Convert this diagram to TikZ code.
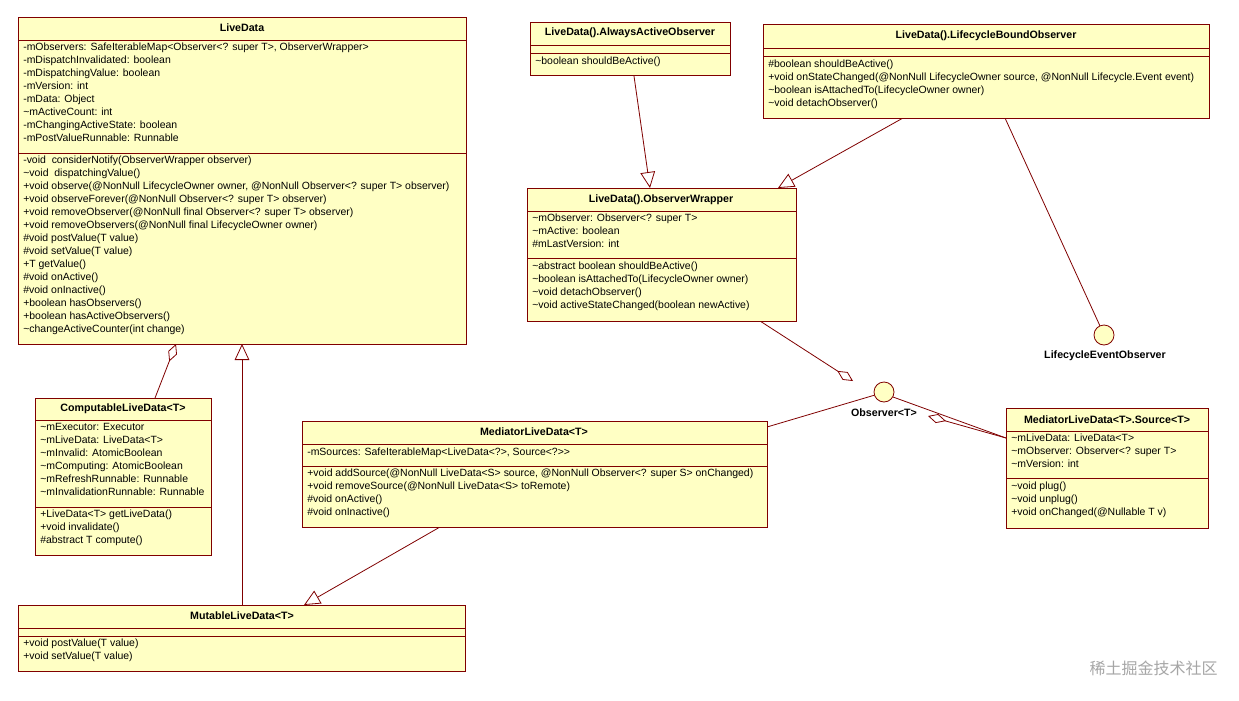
\documentclass[tikz,border=0pt]{standalone}
\usepackage{fontspec}
\setmainfont{Liberation Sans}
\newfontfamily\cjk{Noto Sans CJK SC}
\usetikzlibrary{arrows.meta}
\definecolor{umlfill}{HTML}{FFFFC4}
\definecolor{umlline}{HTML}{800000}
\tikzset{
  cls/.style={draw=umlline,fill=umlfill,line width=0.6pt},
  ttl/.style={font=\bfseries\fontsize{8}{9}\selectfont,anchor=center,inner sep=0},
  txt/.style={font=\fontsize{7.85}{9.75}\selectfont,anchor=north west,align=left,inner sep=0},
  conn/.style={draw=umlline,line width=0.6pt},
  gen/.style={conn,-{Triangle[open,length=12pt,width=11pt,fill=white]}},
  agg/.style={conn,-{Diamond[open,length=14pt,width=7pt,fill=white]}},
  ifc/.style={draw=umlline,fill=umlfill,line width=0.6pt,circle,minimum size=15pt,inner sep=0},
  ilab/.style={font=\bfseries\fontsize{8}{9}\selectfont,inner sep=0}
}
\begin{document}
\begin{tikzpicture}[x=0.75pt,y=-0.75pt]
\useasboundingbox (0,0) rectangle (1239,700);
\fill[white] (0,0) rectangle (1239,700);

% connectors (drawn first)
\coordinate (c1) at (634,76); \coordinate (c1e) at (650,188);
\draw[gen] (c1) -- (c1e);
\coordinate (c2) at (903,118); \coordinate (c2e) at (778,188);
\draw[gen] (c2) -- (c2e);
\coordinate (c3) at (1005,118); \coordinate (c3e) at (1100,326);
\draw[conn] (c3) -- (c3e);
\coordinate (c4) at (760,321); \coordinate (c4e) at (853,381);
\draw[agg] (c4) -- (c4e);
\coordinate (c5) at (767,427); \coordinate (c5e) at (875,395);
\draw[conn] (c5) -- (c5e);
\coordinate (c6) at (1006,438); \coordinate (c6e) at (893,397);
\draw[conn] (c6) -- (c6e);
\coordinate (c7e) at (928,416);
\draw[agg] (c6) -- (c7e);
\coordinate (c8) at (155,398); \coordinate (c8e) at (176,344);
\draw[agg] (c8) -- (c8e);
\coordinate (c9) at (242,605); \coordinate (c9e) at (242,344);
\draw[gen] (c9) -- (c9e);
\coordinate (c10) at (440,527); \coordinate (c10e) at (304,605);
\draw[gen] (c10) -- (c10e);

% LiveData
\draw[cls] (18,17) rectangle (466,344);
\draw[cls] (18,40) -- (466,40); \draw[cls] (18,153) -- (466,153);
\node[ttl] (ld) at (242,28) {LiveData};
\node[txt] (lda) at (23,43) {-mObservers: SafeIterableMap<Observer<? super T>, ObserverWrapper>\\-mDispatchInvalidated: boolean\\-mDispatchingValue: boolean\\-mVersion: int\\-mData: Object\\\textasciitilde mActiveCount: int\\-mChangingActiveState: boolean\\-mPostValueRunnable: Runnable};
\node[txt] (ldm) at (23,156) {-void \ considerNotify(ObserverWrapper observer)\\\textasciitilde void \ dispatchingValue()\\+void observe(@NonNull LifecycleOwner owner, @NonNull Observer<? super T> observer)\\+void observeForever(@NonNull Observer<? super T> observer)\\+void removeObserver(@NonNull final Observer<? super T> observer)\\+void removeObservers(@NonNull final LifecycleOwner owner)\\\#void postValue(T value)\\\#void setValue(T value)\\+T getValue()\\\#void onActive()\\\#void onInactive()\\+boolean hasObservers()\\+boolean hasActiveObservers()\\\textasciitilde changeActiveCounter(int change)};

% AlwaysActiveObserver
\draw[cls] (530,22) rectangle (730,75);
\draw[cls] (530,45) -- (730,45); \draw[cls] (530,53) -- (730,53);
\node[ttl] (aao) at (630,33) {LiveData().AlwaysActiveObserver};
\node[txt] (aaom) at (535,57) {\textasciitilde boolean shouldBeActive()};

% LifecycleBoundObserver
\draw[cls] (763,24) rectangle (1209,118);
\draw[cls] (763,48) -- (1209,48); \draw[cls] (763,56) -- (1209,56);
\node[ttl] (lbo) at (986,36) {LiveData().LifecycleBoundObserver};
\node[txt] (lbom) at (768,60) {\#boolean shouldBeActive()\\+void onStateChanged(@NonNull LifecycleOwner source, @NonNull Lifecycle.Event event)\\\textasciitilde boolean isAttachedTo(LifecycleOwner owner)\\\textasciitilde void detachObserver()};

% ObserverWrapper
\draw[cls] (527,188) rectangle (796,321);
\draw[cls] (527,211) -- (796,211); \draw[cls] (527,258) -- (796,258);
\node[ttl] (ow) at (661,200) {LiveData().ObserverWrapper};
\node[txt] (owa) at (532,214) {\textasciitilde mObserver: Observer<? super T>\\\textasciitilde mActive: boolean\\\#mLastVersion: int};
\node[txt] (owm) at (532,262) {\textasciitilde abstract boolean shouldBeActive()\\\textasciitilde boolean isAttachedTo(LifecycleOwner owner)\\\textasciitilde void detachObserver()\\\textasciitilde void activeStateChanged(boolean newActive)};

% ComputableLiveData
\draw[cls] (35,398) rectangle (211,555);
\draw[cls] (35,420) -- (211,420); \draw[cls] (35,507) -- (211,507);
\node[ttl] (cld) at (123,409) {ComputableLiveData<T>};
\node[txt] (clda) at (40,423) {\textasciitilde mExecutor: Executor\\\textasciitilde mLiveData: LiveData<T>\\\textasciitilde mInvalid: AtomicBoolean\\\textasciitilde mComputing: AtomicBoolean\\\textasciitilde mRefreshRunnable: Runnable\\\textasciitilde mInvalidationRunnable: Runnable};
\node[txt] (cldm) at (40,510) {+LiveData<T> getLiveData()\\+void invalidate()\\\#abstract T compute()};

% MediatorLiveData
\draw[cls] (302,421) rectangle (767,527);
\draw[cls] (302,444) -- (767,444); \draw[cls] (302,466) -- (767,466);
\node[ttl] (mld) at (534,432) {MediatorLiveData<T>};
\node[txt] (mlda) at (307,448) {-mSources: SafeIterableMap<LiveData<?>, Source<?>{}>};
\node[txt] (mldm) at (307,469) {+void addSource(@NonNull LiveData<S> source, @NonNull Observer<? super S> onChanged)\\+void removeSource(@NonNull LiveData<S> toRemote)\\\#void onActive()\\\#void onInactive()};

% Source
\draw[cls] (1006,408) rectangle (1208,528);
\draw[cls] (1006,431) -- (1208,431); \draw[cls] (1006,478) -- (1208,478);
\node[ttl] (src) at (1107,420) {MediatorLiveData<T>.Source<T>};
\node[txt] (srca) at (1011,434) {\textasciitilde mLiveData: LiveData<T>\\\textasciitilde mObserver: Observer<? super T>\\\textasciitilde mVersion: int};
\node[txt] (srcm) at (1011,482) {\textasciitilde void plug()\\\textasciitilde void unplug()\\+void onChanged(@Nullable T v)};

% MutableLiveData
\draw[cls] (18,605) rectangle (465,671);
\draw[cls] (18,628) -- (465,628); \draw[cls] (18,636) -- (465,636);
\node[ttl] (mut) at (242,616) {MutableLiveData<T>};
\node[txt] (mutm) at (23,639) {+void postValue(T value)\\+void setValue(T value)};

% interfaces
\node[ifc] (obs) at (884,392) {};
\node[ilab] (obsl) at (884,413) {Observer<T>};
\node[ifc] (leo) at (1104,335) {};
\node[ilab] (leol) at (1105,356) {LifecycleEventObserver};

\node[font=\cjk\fontsize{12}{14}\selectfont,text=black!35,anchor=east,inner sep=0] (wm) at (1218,668) {稀土掘金技术社区};
\end{tikzpicture}
\end{document}
